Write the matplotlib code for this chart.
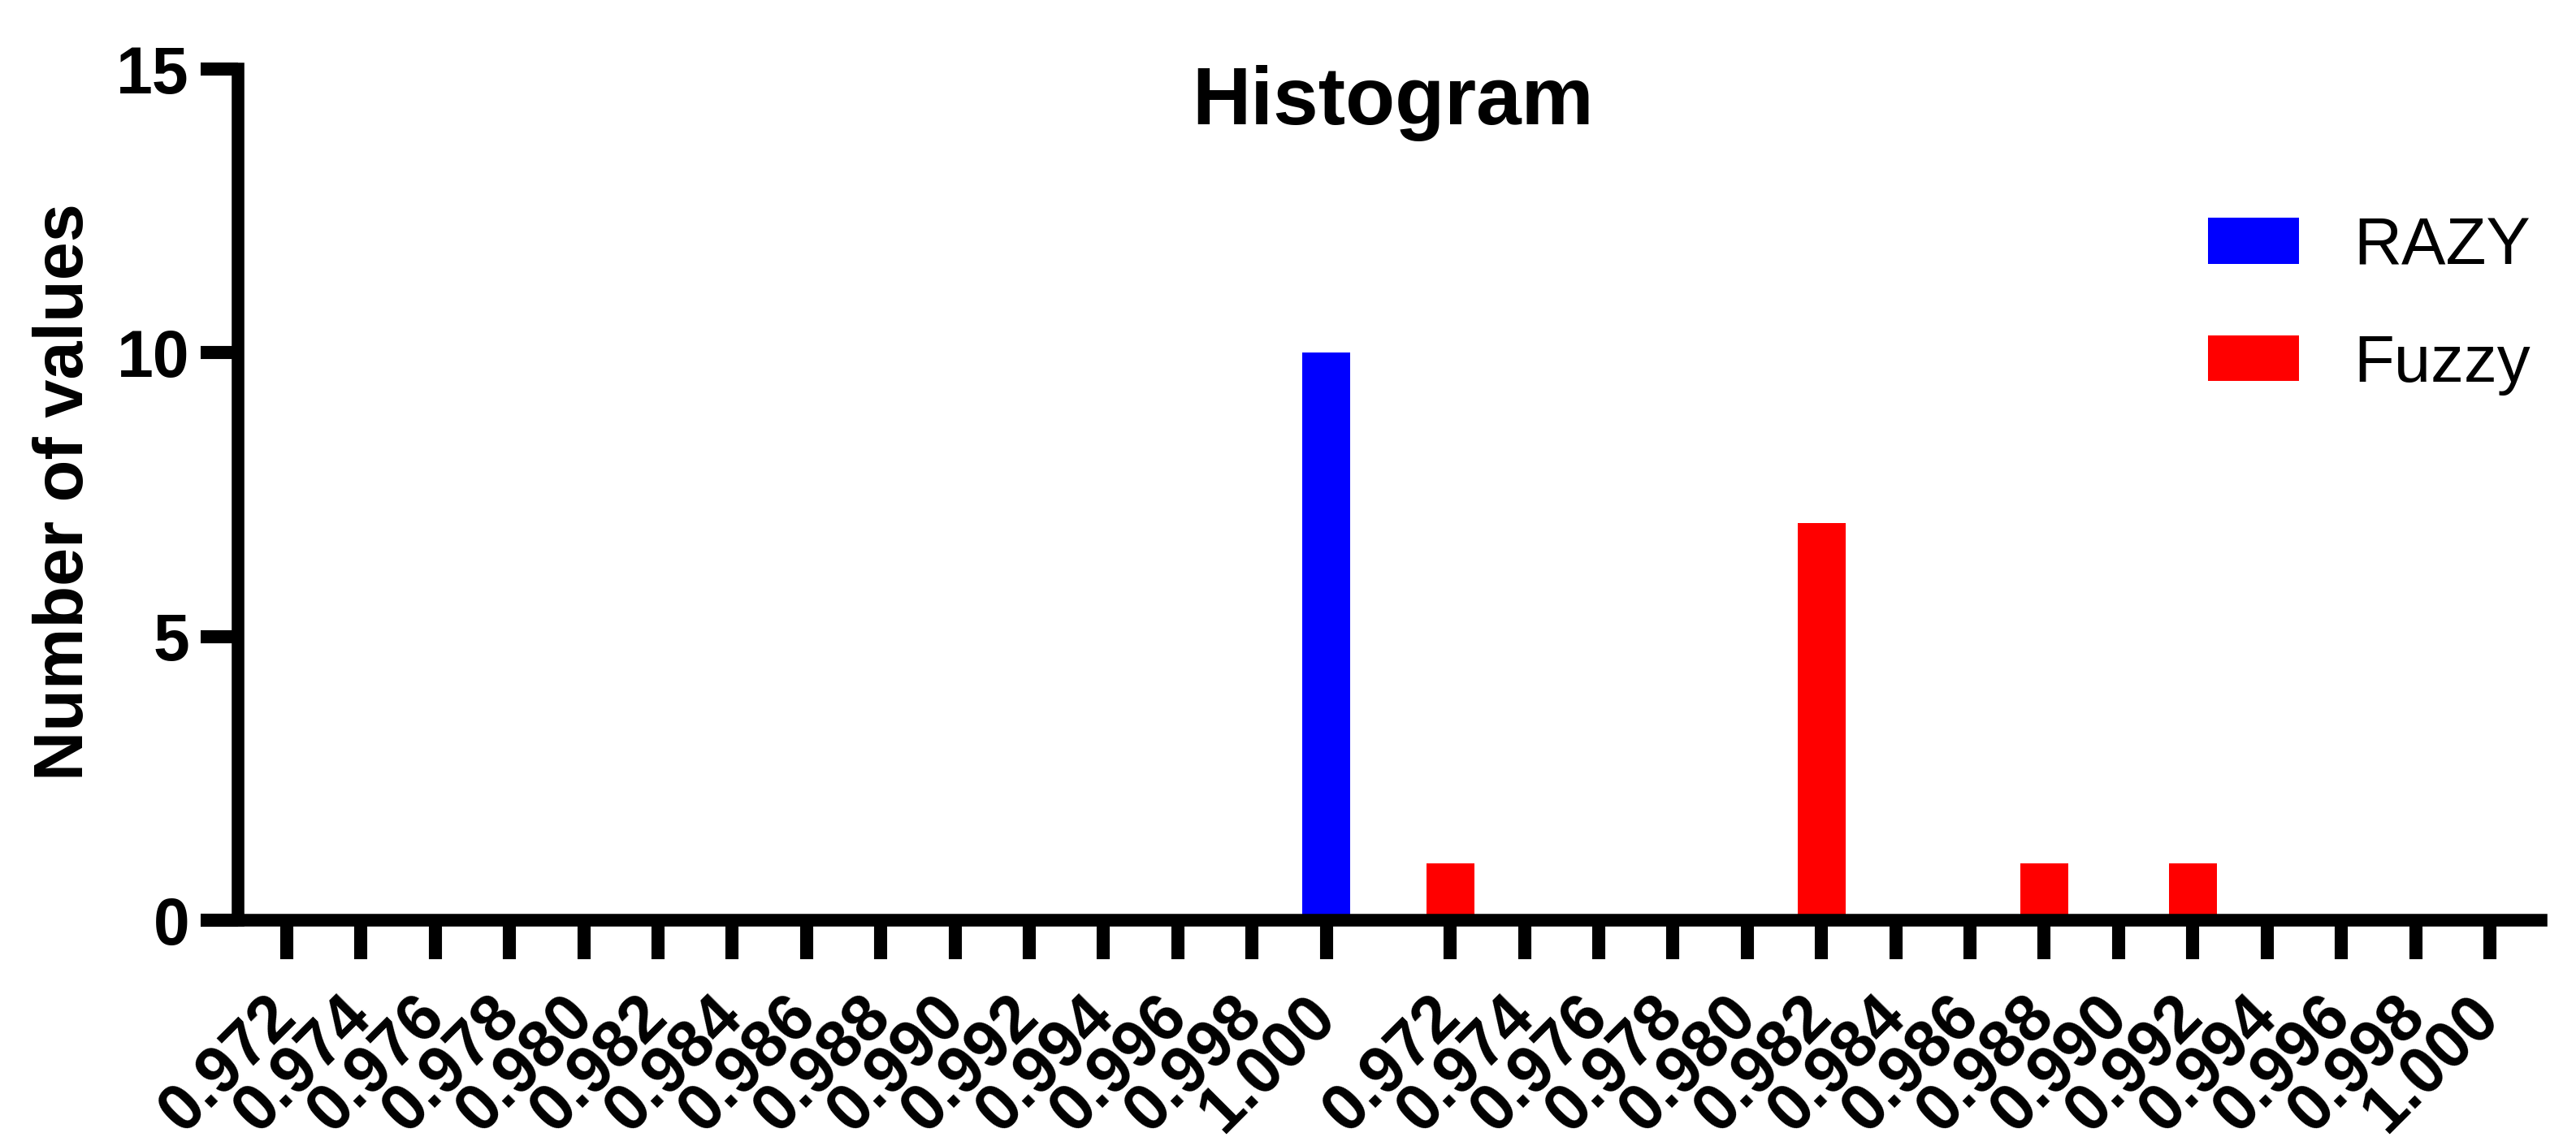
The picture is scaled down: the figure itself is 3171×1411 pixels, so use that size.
import numpy as np
import matplotlib
matplotlib.use("Agg")
import matplotlib.pyplot as plt
from matplotlib.patches import Patch

plt.rcParams['font.family'] = ['Liberation Sans', 'DejaVu Sans']

# bin centres (same bins for both series)
bin_labels = ["0.972", "0.974", "0.976", "0.978", "0.980", "0.982", "0.984",
              "0.986", "0.988", "0.990", "0.992", "0.994", "0.996", "0.998", "1.000"]
razy_counts = [0, 0, 0, 0, 0, 0, 0, 0, 0, 0, 0, 0, 0, 0, 10]
fuzzy_counts = [1, 0, 0, 0, 0, 7, 0, 0, 1, 0, 1, 0, 0, 0, 0]
series_names = ["RAZY", "Fuzzy"]
series_colors = ["#0000ff", "#ff0000"]

W, H, DPI = 3171, 1411, 200
fig = plt.figure(figsize=(W / DPI, H / DPI), dpi=DPI)

# axes placed in pixels like the Prism layout
left_px, right_px, y0_px, y15_px = 293, 3128, 1133, 85
ax = fig.add_axes([left_px / W, (H - y0_px) / H,
                   (right_px - left_px) / W, (y0_px - y15_px) / H])

n = len(bin_labels)
group_gap = 15.668
x1 = np.arange(n)
x2 = np.arange(n) + group_gap
bar_w = 0.646

ax.bar(x1, razy_counts, width=bar_w, color=series_colors[0], linewidth=0, zorder=1)
ax.bar(x2, fuzzy_counts, width=bar_w, color=series_colors[1], linewidth=0, zorder=1)

ax.set_xlim(-0.656, x2[-1] + 0.69)
ax.set_ylim(0, 15)

for side in ['top', 'right']:
    ax.spines[side].set_visible(False)
for side in ['left', 'bottom']:
    ax.spines[side].set_linewidth(5.6)
    ax.spines[side].set_color('black')

ax.set_yticks([0, 5, 10, 15])
ax.set_yticklabels(["0", "5", "10", "15"], fontsize=29, fontweight='bold')
ax.tick_params(axis='y', length=16.6, width=5.8, pad=5, direction='out')

ax.set_xticks(np.concatenate([x1, x2]))
ax.set_xticklabels(bin_labels + bin_labels, fontsize=29, fontweight='bold',
                   rotation=45, ha='right', va='center', rotation_mode='anchor')
ax.tick_params(axis='x', length=17.3, width=5.8, pad=21, direction='out')

fig.text(1715 / W, 1 - 153 / H, "Histogram", ha='center', va='baseline',
         fontsize=36, fontweight='bold')
fig.text(120 / W, 1 - 606 / H, "Number of values", rotation=90,
         ha='right', va='center', fontsize=30.5, fontweight='bold')

handles = [Patch(facecolor=c, edgecolor='none') for c in series_colors]
ax.legend(handles, series_names, loc='upper left',
          bbox_to_anchor=(2718 / W, 1 - 266 / H), bbox_transform=fig.transFigure,
          frameon=False, borderpad=0, borderaxespad=0, fontsize=29.4,
          handlelength=1.37, handleheight=0.685, handletextpad=0.83, labelspacing=0.84)

fig.savefig("out.png", dpi=DPI)
